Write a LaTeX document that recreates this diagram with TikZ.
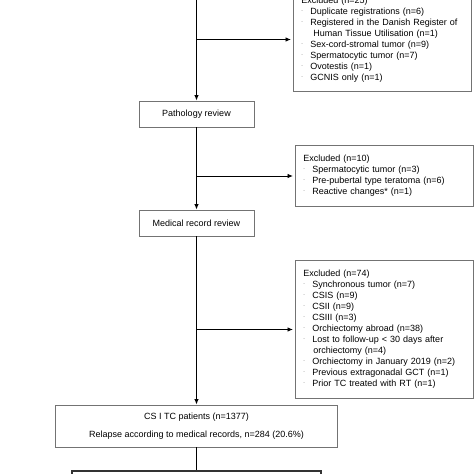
\documentclass[tikz,border=0pt]{standalone}
\usepackage{fontspec}
\setmainfont{Liberation Sans}
\usetikzlibrary{positioning, arrows.meta}

% small grey dash in front of each excluded reason
\newcommand{\exitem}{\makebox[9pt][l]{\textcolor{gray}{\raisebox{0.45ex}{\tiny -}}}}

\begin{document}
\begin{tikzpicture}[
        x=1pt, y=1pt,
        font=\fontsize{9}{11}\selectfont,
        block/.style={rectangle, draw=black!55, line width=0.9pt, text centered, minimum width=115pt, minimum height=26pt},
        excl/.style={rectangle, draw=black!55, line width=0.9pt, text width=162pt, align=left, inner xsep=8pt, inner ysep=9.5pt, anchor=west},
        line/.style={draw, -{Latex[length=5.5pt, width=4.5pt]}, line width=0.9pt}
    ]
        \useasboundingbox (0,0) rectangle (474,-474);
        \clip (0,0) rectangle (474,-474);

        \coordinate (top) at (196.5,0);
        \node [block] (patho) at (196.5,-114) {Pathology review};
        \node [block, below of=patho, node distance=109pt] (medrec) {Medical record review};
        \node [block, below of=medrec, node distance=203pt, minimum width=282pt, minimum height=42pt, align=center] (cohort)
            {CS I TC patients (n=1377)\\[7pt]Relapse according to medical records, n=284 (20.6\%)};
        \node [block, below of=cohort, node distance=60pt, draw=black!80, line width=2pt, minimum width=249pt, minimum height=30pt] (final) {};

        \node [excl] (excla) at (293,-39.5) {Excluded (n=25)\\
            \exitem Duplicate registrations (n=6)\\
            \exitem Registered in the Danish Register of\\
            \hspace*{12pt}Human Tissue Utilisation (n=1)\\
            \exitem Sex-cord-stromal tumor (n=9)\\
            \exitem Spermatocytic tumor (n=7)\\
            \exitem Ovotestis (n=1)\\
            \exitem GCNIS only (n=1)};
        \node [excl] (exclb) at (295,-176) {Excluded (n=10)\\
            \exitem Spermatocytic tumor (n=3)\\
            \exitem Pre-pubertal type teratoma (n=6)\\
            \exitem Reactive changes* (n=1)};
        \node [excl] (exclc) at (295,-329.5) {Excluded (n=74)\\
            \exitem Synchronous tumor (n=7)\\
            \exitem CSIS (n=9)\\
            \exitem CSII (n=9)\\
            \exitem CSIII (n=3)\\
            \exitem Orchiectomy abroad (n=38)\\
            \exitem Lost to follow-up \textless{} 30 days after\\
            \hspace*{10pt}orchiectomy (n=4)\\
            \exitem Orchiectomy in January 2019 (n=2)\\
            \exitem Previous extragonadal GCT (n=1)\\
            \exitem Prior TC treated with RT (n=1)};

        \path [line] (top) -- (patho);
        \path [line] (patho) -- (medrec);
        \path [line] (medrec) -- (cohort);
        \draw [line width=0.9pt] (cohort) -- (final);

        \path [line, shorten >=2pt] (top |- excla.west) -- (excla.west);
        \path [line, shorten >=2pt] (top |- exclb.west) -- (exclb.west);
        \path [line, shorten >=2pt] (top |- exclc.west) -- (exclc.west);
    \end{tikzpicture}
\end{document}
